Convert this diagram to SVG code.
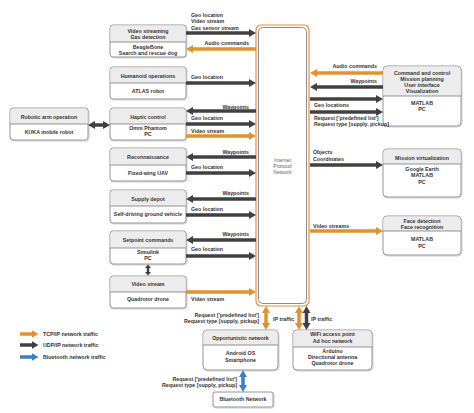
<svg xmlns="http://www.w3.org/2000/svg" width="474" height="413" viewBox="0 0 474 413">
<defs>
<style>
text{font-family:"Liberation Sans",Arial,sans-serif;font-size:5.3px;font-weight:bold;fill:#333;}
.c{text-anchor:middle;}
.e{text-anchor:end;}
.box{fill:#fff;stroke:#7a7a7a;stroke-width:0.8;}
.sh{fill:none;stroke:#c4c4c4;stroke-width:0.8;}
.hd{fill:#ececec;stroke:none;}
.dv{stroke:#7a7a7a;stroke-width:0.8;}
.u{stroke:#404040;stroke-width:3.5;fill:none;}
.t{stroke:#e0922f;stroke-width:3.5;fill:none;}
.b{stroke:#3d7fc1;stroke-width:3.5;fill:none;}
.net{font-weight:normal;fill:#666;font-size:5px;}
</style>
<marker id="au" markerUnits="userSpaceOnUse" markerWidth="7" markerHeight="8" refX="0.5" refY="4" orient="auto-start-reverse"><path d="M0,0 L7,4 L0,8 Z" fill="#404040"/></marker>
<marker id="at" markerUnits="userSpaceOnUse" markerWidth="7" markerHeight="8" refX="0.5" refY="4" orient="auto-start-reverse"><path d="M0,0 L7,4 L0,8 Z" fill="#e0922f"/></marker>
<marker id="ab" markerUnits="userSpaceOnUse" markerWidth="7" markerHeight="8" refX="0.5" refY="4" orient="auto-start-reverse"><path d="M0,0 L7,4 L0,8 Z" fill="#3d7fc1"/></marker>
</defs>
<rect width="474" height="413" fill="#fff"/>

<g id="network">
<rect x="256" y="25" width="53" height="281" rx="5" fill="#fff" stroke="#e0922f" stroke-width="1.2"/>
<rect x="258.5" y="27.5" width="48" height="276" rx="4" fill="#fff" stroke="#8a8a9a" stroke-width="1"/>
<text class="c net" x="282.5" y="162">Internet</text>
<text class="c net" x="282.5" y="168">Protocol</text>
<text class="c net" x="282.5" y="174">Network</text>
</g>

<g id="n-video-streaming">
<rect class="sh" x="111" y="26" width="76" height="32" rx="3"/>
<rect class="box" x="110" y="25" width="76" height="32" rx="3"/>
<path class="hd" d="M110.4,42 V28 Q110.4,25.4 113,25.4 H183 Q185.6,25.4 185.6,28 V42 Z"/>
<line class="dv" x1="110" y1="42" x2="186" y2="42"/>
<text class="c" x="148" y="33">Video streaming</text>
<text class="c" x="148" y="39">Gas detection</text>
<text class="c" x="148" y="49">BeagleBone</text>
<text class="c" x="148" y="55">Search and rescue dog</text>
</g>

<g id="n-humanoid">
<rect class="sh" x="111" y="68" width="76" height="32" rx="3"/>
<rect class="box" x="110" y="67" width="76" height="32" rx="3"/>
<path class="hd" d="M110.4,83 V70 Q110.4,67.4 113,67.4 H183 Q185.6,67.4 185.6,70 V83 Z"/>
<line class="dv" x1="110" y1="83" x2="186" y2="83"/>
<text class="c" x="148" y="78">Humanoid operations</text>
<text class="c" x="148" y="93">ATLAS robot</text>
</g>

<g id="n-haptic">
<rect class="sh" x="111" y="109" width="76" height="32" rx="3"/>
<rect class="box" x="110" y="108" width="76" height="32" rx="3"/>
<path class="hd" d="M110.4,124 V111 Q110.4,108.4 113,108.4 H183 Q185.6,108.4 185.6,111 V124 Z"/>
<line class="dv" x1="110" y1="124" x2="186" y2="124"/>
<text class="c" x="148" y="119">Haptic control</text>
<text class="c" x="148" y="130">Omni Phantom</text>
<text class="c" x="148" y="136">PC</text>
</g>

<g id="n-robotic-arm">
<rect class="sh" x="11" y="109" width="78" height="32" rx="3"/>
<rect class="box" x="10" y="108" width="78" height="32" rx="3"/>
<path class="hd" d="M10.4,124 V111 Q10.4,108.4 13,108.4 H85 Q87.6,108.4 87.6,111 V124 Z"/>
<line class="dv" x1="10" y1="124" x2="88" y2="124"/>
<text class="c" x="49" y="119">Robotic arm operation</text>
<text class="c" x="49" y="134">KUKA mobile robot</text>
</g>

<g id="n-recon">
<rect class="sh" x="111" y="149" width="76" height="33" rx="3"/>
<rect class="box" x="110" y="148" width="76" height="33" rx="3"/>
<path class="hd" d="M110.4,165 V151 Q110.4,148.4 113,148.4 H183 Q185.6,148.4 185.6,151 V165 Z"/>
<line class="dv" x1="110" y1="165" x2="186" y2="165"/>
<text class="c" x="148" y="159">Reconnaissance</text>
<text class="c" x="148" y="175">Fixed-wing UAV</text>
</g>

<g id="n-supply">
<rect class="sh" x="111" y="191" width="76" height="33" rx="3"/>
<rect class="box" x="110" y="190" width="76" height="33" rx="3"/>
<path class="hd" d="M110.4,206 V193 Q110.4,190.4 113,190.4 H183 Q185.6,190.4 185.6,193 V206 Z"/>
<line class="dv" x1="110" y1="206" x2="186" y2="206"/>
<text class="c" x="148" y="201">Supply depot</text>
<text class="c" x="148" y="216">Self-driving ground vehicle</text>
</g>

<g id="n-setpoint">
<rect class="sh" x="111" y="232" width="76" height="33" rx="3"/>
<rect class="box" x="110" y="231" width="76" height="33" rx="3"/>
<path class="hd" d="M110.4,248 V234 Q110.4,231.4 113,231.4 H183 Q185.6,231.4 185.6,234 V248 Z"/>
<line class="dv" x1="110" y1="248" x2="186" y2="248"/>
<text class="c" x="148" y="242">Setpoint commands</text>
<text class="c" x="148" y="254">Simulink</text>
<text class="c" x="148" y="260">PC</text>
</g>

<g id="n-video-stream">
<rect class="sh" x="111" y="277" width="76" height="32" rx="3"/>
<rect class="box" x="110" y="276" width="76" height="32" rx="3"/>
<path class="hd" d="M110.4,292 V279 Q110.4,276.4 113,276.4 H183 Q185.6,276.4 185.6,279 V292 Z"/>
<line class="dv" x1="110" y1="292" x2="186" y2="292"/>
<text class="c" x="148" y="286">Video stream</text>
<text class="c" x="148" y="301">Quadrotor drone</text>
</g>

<g id="n-command">
<rect class="sh" x="384" y="67" width="78" height="60" rx="4"/>
<rect class="box" x="383" y="66" width="78" height="60" rx="4"/>
<path class="hd" d="M383.4,96 V70 Q383.4,66.4 387,66.4 H457 Q460.6,66.4 460.6,70 V96 Z"/>
<line class="dv" x1="383" y1="96" x2="461" y2="96"/>
<text class="c" x="422" y="75">Command and control</text>
<text class="c" x="422" y="81">Mission planning</text>
<text class="c" x="422" y="87">User interface</text>
<text class="c" x="422" y="93">Visualization</text>
<text class="c" x="422" y="105">MATLAB</text>
<text class="c" x="422" y="111">PC</text>
</g>

<g id="n-mission">
<rect class="sh" x="384" y="150" width="78" height="48" rx="4"/>
<rect class="box" x="383" y="149" width="78" height="48" rx="4"/>
<path class="hd" d="M383.4,164 V153 Q383.4,149.4 387,149.4 H457 Q460.6,149.4 460.6,153 V164 Z"/>
<line class="dv" x1="383" y1="164" x2="461" y2="164"/>
<text class="c" x="422" y="160">Mission virtualization</text>
<text class="c" x="422" y="171">Google Earth</text>
<text class="c" x="422" y="177">MATLAB</text>
<text class="c" x="422" y="184">PC</text>
</g>

<g id="n-face">
<rect class="sh" x="384" y="217" width="78" height="39" rx="4"/>
<rect class="box" x="383" y="216" width="78" height="39" rx="4"/>
<path class="hd" d="M383.4,231 V220 Q383.4,216.4 387,216.4 H457 Q460.6,216.4 460.6,220 V231 Z"/>
<line class="dv" x1="383" y1="231" x2="461" y2="231"/>
<text class="c" x="422" y="223">Face detection</text>
<text class="c" x="422" y="229">Face recognition</text>
<text class="c" x="422" y="241">MATLAB</text>
<text class="c" x="422" y="248">PC</text>
</g>

<g id="n-opportunistic">
<rect class="sh" x="204" y="331" width="75" height="40" rx="4"/>
<rect class="box" x="203" y="330" width="75" height="40" rx="4"/>
<path class="hd" d="M203.4,345 V334 Q203.4,330.4 207,330.4 H274 Q277.6,330.4 277.6,334 V345 Z"/>
<line class="dv" x1="203" y1="345" x2="278" y2="345"/>
<text class="c" x="240.5" y="340">Opportunistic network</text>
<text class="c" x="240.5" y="355">Android OS</text>
<text class="c" x="240.5" y="362">Smartphone</text>
</g>

<g id="n-wifi">
<rect class="sh" x="294" y="331" width="79" height="40" rx="4"/>
<rect class="box" x="293" y="330" width="79" height="40" rx="4"/>
<path class="hd" d="M293.4,347 V334 Q293.4,330.4 297,330.4 H368 Q371.6,330.4 371.6,334 V347 Z"/>
<line class="dv" x1="293" y1="347" x2="372" y2="347"/>
<text class="c" x="332.5" y="336">WiFi access point</text>
<text class="c" x="332.5" y="343">Ad hoc network</text>
<text class="c" x="332.5" y="353">Arduino</text>
<text class="c" x="332.5" y="359">Directional antenna</text>
<text class="c" x="332.5" y="365">Quadrotor drone</text>
</g>

<g id="n-bluetooth">
<rect class="sh" x="214" y="393" width="60" height="15" rx="2"/>
<rect class="box" x="213" y="392" width="60" height="15" rx="2"/>
<text class="c" x="243" y="401">Bluetooth Network</text>
</g>

<g id="connectors">
<line class="u" x1="186" y1="33" x2="249.5" y2="33" marker-end="url(#au)"/>
<line class="t" x1="256" y1="49" x2="192.5" y2="49" marker-end="url(#at)"/>
<line class="u" x1="186" y1="83" x2="249.5" y2="83" marker-end="url(#au)"/>
<line class="u" x1="256" y1="111" x2="192.5" y2="111" marker-end="url(#au)"/>
<line class="u" x1="186" y1="124" x2="249.5" y2="124" marker-end="url(#au)"/>
<line class="t" x1="186" y1="136" x2="249.5" y2="136" marker-end="url(#at)"/>
<line class="u" x1="256" y1="157" x2="192.5" y2="157" marker-end="url(#au)"/>
<line class="u" x1="186" y1="173" x2="249.5" y2="173" marker-end="url(#au)"/>
<line class="u" x1="256" y1="199" x2="192.5" y2="199" marker-end="url(#au)"/>
<line class="u" x1="186" y1="215" x2="249.5" y2="215" marker-end="url(#au)"/>
<line class="u" x1="256" y1="240" x2="192.5" y2="240" marker-end="url(#au)"/>
<line class="u" x1="186" y1="256" x2="249.5" y2="256" marker-end="url(#au)"/>
<line class="t" x1="186" y1="292" x2="249.5" y2="292" marker-end="url(#at)"/>
<line class="u" x1="94.5" y1="125" x2="103.5" y2="125" marker-start="url(#au)" marker-end="url(#au)"/>
<path d="M148,264.5 L151,268 L149.2,268 L149.2,272 L151,272 L148,275.5 L145,272 L146.8,272 L146.8,268 L145,268 Z" fill="#404040"/>
<line class="t" x1="383" y1="73" x2="316.5" y2="73" marker-end="url(#at)"/>
<line class="u" x1="383" y1="87" x2="316.5" y2="87" marker-end="url(#au)"/>
<line class="u" x1="310" y1="99" x2="376.5" y2="99" marker-end="url(#au)"/>
<line class="u" x1="310" y1="112" x2="376.5" y2="112" marker-end="url(#au)"/>
<line class="u" x1="310" y1="165" x2="376.5" y2="165" marker-end="url(#au)"/>
<line class="t" x1="310" y1="231" x2="376.5" y2="231" marker-end="url(#at)"/>
<line class="t" x1="266" y1="312.5" x2="266" y2="323.5" marker-start="url(#at)" marker-end="url(#at)"/>
<line class="t" x1="299" y1="312.5" x2="299" y2="323.5" marker-start="url(#at)" marker-end="url(#at)"/>
<line class="u" x1="306.5" y1="312.5" x2="306.5" y2="323.5" stroke-width="2.5" marker-start="url(#au)" marker-end="url(#au)"/>
<line class="b" x1="243" y1="376.5" x2="243" y2="385.5" marker-start="url(#ab)" marker-end="url(#ab)"/>
</g>

<g id="labels">
<text x="191" y="17">Geo location</text>
<text x="191" y="23">Video stream</text>
<text x="191" y="29.5">Gas sensor stream</text>
<text class="e" x="249" y="45">Audio commands</text>
<text x="191" y="79">Geo location</text>
<text class="e" x="249" y="108.5">Waypoints</text>
<text x="191" y="120">Geo location</text>
<text x="191" y="133">Video stream</text>
<text class="e" x="249" y="154">Waypoints</text>
<text x="191" y="169">Geo location</text>
<text class="e" x="249" y="195">Waypoints</text>
<text x="191" y="211">Geo location</text>
<text class="e" x="249" y="236">Waypoints</text>
<text x="191" y="251">Geo location</text>
<text x="191" y="301">Video stream</text>
<text class="e" x="377" y="68">Audio commands</text>
<text class="e" x="377" y="83">Waypoints</text>
<text x="314" y="107">Geo locations</text>
<text x="314" y="120">Request ['predefined list']</text>
<text x="314" y="126">Request type [supply, pickup]</text>
<text x="313" y="154">Objects</text>
<text x="313" y="160.5">Coordinates</text>
<text x="313" y="228">Video streams</text>
<text class="e" x="259" y="317">Request ['predefined list']</text>
<text class="e" x="259" y="323">Request type [supply, pickup]</text>
<text x="273" y="321">IP traffic</text>
<text x="311" y="321">IP traffic</text>
<text class="e" x="237" y="381">Request ['predefined list']</text>
<text class="e" x="237" y="387">Request type [supply, pickup]</text>
</g>

<g id="legend">
<line class="t" x1="20" y1="334" x2="32" y2="334" marker-end="url(#at)"/>
<text x="43" y="336">TCP/IP network traffic</text>
<line class="u" x1="20" y1="345" x2="32" y2="345" marker-end="url(#au)"/>
<text x="43" y="347">UDP/IP network traffic</text>
<line class="b" x1="20" y1="357" x2="32" y2="357" marker-end="url(#ab)"/>
<text x="43" y="359">Bluetooth network traffic</text>
</g>
</svg>
